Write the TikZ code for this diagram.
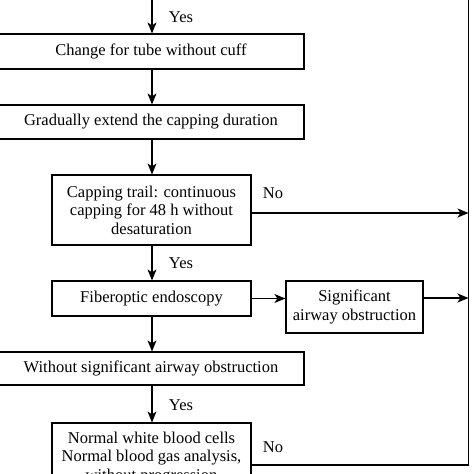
\documentclass[tikz,border=0pt]{standalone}
\usepackage{fontspec}
\setmainfont{Liberation Serif}
\usetikzlibrary{arrows.meta}
\begin{document}
\begin{tikzpicture}[x=1pt,y=-1pt,
  box/.style={draw,line width=1.2pt,inner sep=0pt,align=center,font=\fontsize{16.5}{18.5}\selectfont},
  lbl/.style={font=\fontsize{16.5}{18.5}\selectfont,inner sep=0pt},
  arr/.style={line width=1.2pt,-{Stealth[length=11pt,width=9pt,inset=3pt]}},
  ln/.style={line width=1.2pt}]
\clip (0,0) rectangle (474,474);
\fill[white] (0,0) rectangle (474,474);
\coordinate (top) at (152,-10);
\coordinate (rtop) at (468.5,-10);
\node[box,minimum width=306pt,minimum height=35pt] (b1) at (151,51.5) {Change for tube without cuff};
\node[box,minimum width=306pt,minimum height=34pt] (b2) at (151,122) {Gradually extend the capping duration};
\node[box,minimum width=199pt,minimum height=70pt] (b3) at (151.5,210) {Capping trail: continuous\\capping for 48 h without\\desaturation};
\node[box,minimum width=199pt,minimum height=35pt] (b4) at (151.5,298.5) {Fiberoptic endoscopy};
\node[box,minimum width=137pt,minimum height=52pt] (b5) at (354.5,307) {Significant\\airway obstruction};
\node[box,minimum width=306pt,minimum height=33pt] (b6) at (151,368.5) {Without significant airway obstruction};
\node[box,minimum width=199pt,minimum height=70pt] (b7) at (151.5,458) {Normal white blood cells\\Normal blood gas analysis,\\without progression};
\coordinate (spine) at (152,0);
\coordinate (rx) at (468.5,0);
\draw[arr] (top) -- (b1.north -| spine);
\draw[arr] (b1.south -| spine) -- (b2.north -| spine);
\draw[arr] (b2.south -| spine) -- (b3.north -| spine);
\draw[arr] (b3.south -| spine) -- (b4.north -| spine);
\draw[arr] (b4.south -| spine) -- (b6.north -| spine);
\draw[arr] (b6.south -| spine) -- (b7.north -| spine);
\draw[arr] (b4.east) -- (b4.east -| b5.west);
\coordinate (b3o) at ([yshift=-3pt]b3.east);
\draw[arr] (b3o) -- (b3o -| rx);
\coordinate (b5o) at ([yshift=9pt]b5.east);
\draw[arr] (b5o) -- (b5o -| rx);
\coordinate (b7o) at ([yshift=-7pt]b7.east);
\draw[ln] (b7o) -- (b7o -| rx) -- (rtop);
\node[lbl] (y1) at (181,17) {Yes};
\node[lbl] (y2) at (181,263) {Yes};
\node[lbl] (y3) at (181,405) {Yes};
\node[lbl] (n1) at (273,193) {No};
\node[lbl] (n2) at (273,447) {No};
\end{tikzpicture}
\end{document}
